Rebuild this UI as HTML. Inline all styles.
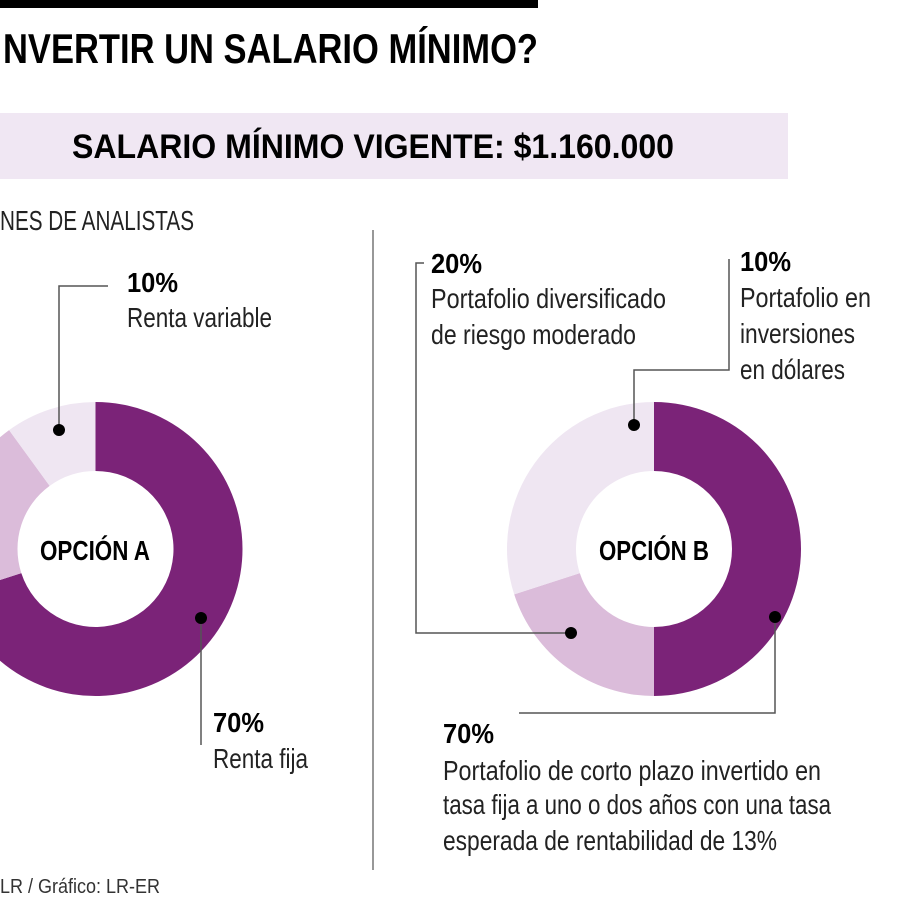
<!DOCTYPE html>
<html><head><meta charset="utf-8"><style>
html,body{margin:0;padding:0;background:#fff;}
svg{display:block;font-family:"Liberation Sans Narrow","Liberation Sans",sans-serif;}
.b{font-weight:bold;}
</style></head><body>
<svg width="900" height="900" viewBox="0 0 900 900">
<rect x="0" y="0" width="538" height="8" fill="#000"/>
<text x="3" y="63" class="b" font-size="42" textLength="535" lengthAdjust="spacingAndGlyphs">NVERTIR UN SALARIO MÍNIMO?</text>
<rect x="0" y="113" width="788" height="66" fill="#f0e7f3"/>
<text x="72" y="158" class="b" font-size="34" textLength="602" lengthAdjust="spacingAndGlyphs">SALARIO MÍNIMO VIGENTE: $1.160.000</text>
<text x="0" y="230" font-size="28" textLength="194" lengthAdjust="spacingAndGlyphs" fill="#222">NES DE ANALISTAS</text>
<line x1="373" y1="230" x2="373" y2="870" stroke="#777" stroke-width="1.5"/>
<g id="donutA"></g>
<g id="donutB"></g>
<text x="95" y="560" text-anchor="middle" class="b" font-size="28" textLength="110" lengthAdjust="spacingAndGlyphs">OPCIÓN A</text>
<text x="654" y="560" text-anchor="middle" class="b" font-size="28" textLength="110" lengthAdjust="spacingAndGlyphs">OPCIÓN B</text>
<g fill="none" stroke="#555" stroke-width="1.5">
<polyline points="108,286 59,286 59,430"/>
<polyline points="201,618 201,745"/>
<polyline points="424,263 416,263 416,633 571,633"/>
<polyline points="729,259 729,370 634,370 634,425"/>
<polyline points="775,617 775,713 519,713"/>
</g>
<g fill="#000">
<circle cx="59" cy="430" r="6"/><circle cx="201" cy="618" r="6"/>
<circle cx="571" cy="633" r="6"/><circle cx="634" cy="425" r="6"/><circle cx="775" cy="617" r="6"/>
</g>
<g font-size="28" fill="#222">
<text x="127" y="292" class="b" fill="#000" textLength="51" lengthAdjust="spacingAndGlyphs">10%</text>
<text x="127" y="327" textLength="145" lengthAdjust="spacingAndGlyphs">Renta variable</text>
<text x="213" y="732" class="b" fill="#000" textLength="51" lengthAdjust="spacingAndGlyphs">70%</text>
<text x="213" y="768" textLength="95" lengthAdjust="spacingAndGlyphs">Renta fija</text>
<text x="431" y="273" class="b" fill="#000" textLength="51" lengthAdjust="spacingAndGlyphs">20%</text>
<text x="431" y="308" textLength="235" lengthAdjust="spacingAndGlyphs">Portafolio diversificado</text>
<text x="431" y="344" textLength="205" lengthAdjust="spacingAndGlyphs">de riesgo moderado</text>
<text x="740" y="271" class="b" fill="#000" textLength="51" lengthAdjust="spacingAndGlyphs">10%</text>
<text x="740" y="307" textLength="131" lengthAdjust="spacingAndGlyphs">Portafolio en</text>
<text x="740" y="343" textLength="115" lengthAdjust="spacingAndGlyphs">inversiones</text>
<text x="740" y="379" textLength="105" lengthAdjust="spacingAndGlyphs">en dólares</text>
<text x="443" y="743" class="b" fill="#000" textLength="51" lengthAdjust="spacingAndGlyphs">70%</text>
<text x="443" y="780" textLength="378" lengthAdjust="spacingAndGlyphs">Portafolio de corto plazo invertido en</text>
<text x="443" y="814" textLength="388" lengthAdjust="spacingAndGlyphs">tasa fija a uno o dos años con una tasa</text>
<text x="443" y="850" textLength="334" lengthAdjust="spacingAndGlyphs">esperada de rentabilidad de 13%</text>
</g>
<text x="0" y="893" font-size="20" fill="#333" textLength="160" lengthAdjust="spacingAndGlyphs">LR  / Gráfico: LR-ER</text>
</svg>
<script>
const segmentNames = ["principal","secundario","menor"];
const optionAValues = [70, 20, 10];
const optionBValues = [50, 20, 30];
const segmentColors = ["#7b2378","#dbbcda","#efe6f2"];
const NS = "http://www.w3.org/2000/svg";
function angleScale(v, total){ return v / total * 2 * Math.PI; }
function pt(cx, cy, r, a){ return [cx + r*Math.sin(a), cy - r*Math.cos(a)]; }
function drawDonut(g, values, cx, cy, ro, ri){
  const total = values.reduce((s,v)=>s+v,0);
  let a0 = 0;
  values.forEach((v,i)=>{
    const a1 = a0 + angleScale(v,total);
    const large = (a1-a0) > Math.PI ? 1 : 0;
    const p1 = pt(cx,cy,ro,a0), p2 = pt(cx,cy,ro,a1), p3 = pt(cx,cy,ri,a1), p4 = pt(cx,cy,ri,a0);
    const path = document.createElementNS(NS,"path");
    path.setAttribute("d", `M${p1} A${ro},${ro} 0 ${large} 1 ${p2} L${p3} A${ri},${ri} 0 ${large} 0 ${p4} Z`);
    path.setAttribute("fill", segmentColors[i]);
    
    
    g.appendChild(path);
    a0 = a1;
  });
}
drawDonut(document.getElementById("donutA"), optionAValues, 95.5, 549, 147, 78);
drawDonut(document.getElementById("donutB"), optionBValues, 654, 549, 147, 78);
</script>
</body></html>
